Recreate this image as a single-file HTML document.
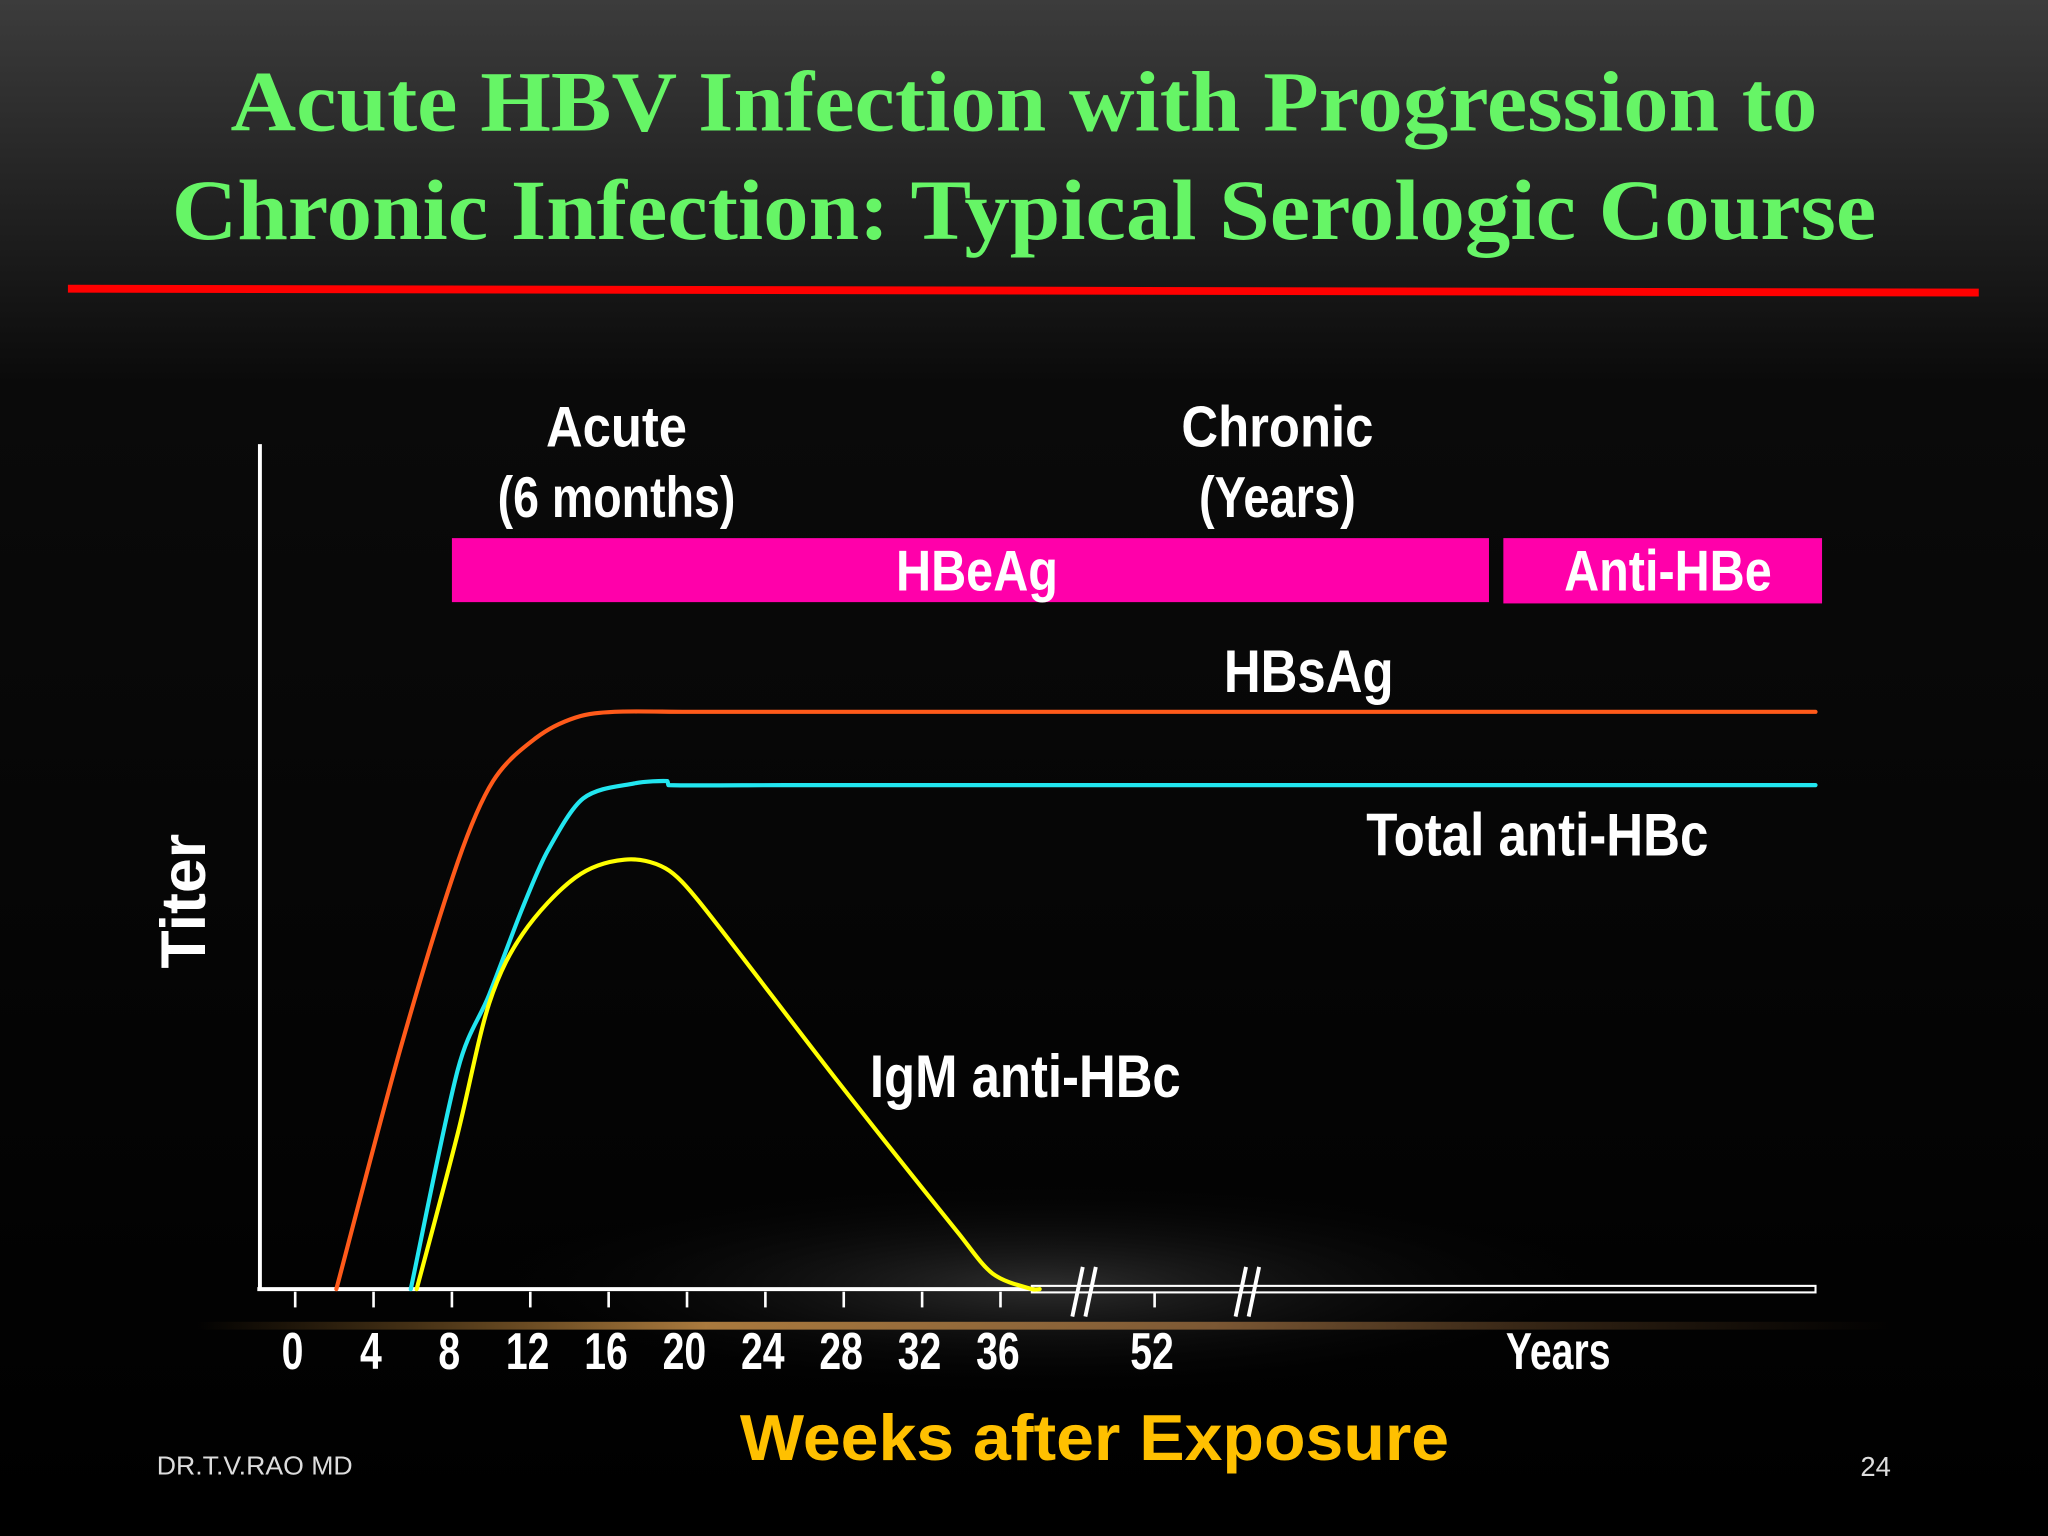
<!DOCTYPE html>
<html><head><meta charset="utf-8"><style>
html,body{margin:0;padding:0;background:#000;}
svg{display:block;}
.n{font-family:"Liberation Sans",sans-serif;font-weight:bold;fill:#fff;}
</style></head><body>
<svg id="chart" width="2048" height="1536" viewBox="0 0 1568 1176" xmlns="http://www.w3.org/2000/svg">
<defs>
<linearGradient id="bg" x1="0" y1="0" x2="0" y2="1">
<stop offset="0" stop-color="#3c3c3c"/><stop offset="0.25" stop-color="#0a0a0a"/><stop offset="1" stop-color="#000"/>
</linearGradient>
<radialGradient id="glow" cx="0.5" cy="0.5" r="0.5">
<stop offset="0" stop-color="#2e2e2e"/><stop offset="1" stop-color="#000" stop-opacity="0"/>
</radialGradient>
<linearGradient id="gold" x1="0" x2="1">
<stop offset="0" stop-color="#c98a30" stop-opacity="0"/><stop offset="0.3" stop-color="#e0a050"/><stop offset="0.6" stop-color="#a07040"/><stop offset="1" stop-color="#604020" stop-opacity="0"/>
</linearGradient>
</defs>
<rect width="1568" height="1176" fill="url(#bg)"/>
<ellipse cx="800" cy="985" rx="450" ry="85" fill="url(#glow)"/>
<rect x="150" y="1012" width="1300" height="6" fill="url(#gold)" opacity="0.75"/>

<g font-family="'Liberation Serif',serif" font-weight="bold" font-size="66" fill="#66f566" text-anchor="middle">
<text x="784" y="100" textLength="1215" lengthAdjust="spacingAndGlyphs">Acute HBV Infection with Progression to</text>
<text x="784" y="183" textLength="1305" lengthAdjust="spacingAndGlyphs">Chronic Infection: Typical Serologic Course</text>
</g>
<polygon points="52,218 1515,221 1515,227 52,224" fill="#ff0000"/>

<g class="n" font-size="44" text-anchor="middle">
<text x="472" y="342" textLength="108" lengthAdjust="spacingAndGlyphs">Acute</text>
<text x="472" y="396" textLength="182" lengthAdjust="spacingAndGlyphs">(6 months)</text>
<text x="978" y="342" textLength="147" lengthAdjust="spacingAndGlyphs">Chronic</text>
<text x="978" y="396" textLength="120" lengthAdjust="spacingAndGlyphs">(Years)</text>
</g>
<rect x="346" y="412" width="794" height="49" fill="#ff00aa"/>
<rect x="1151" y="412" width="244" height="50" fill="#ff00aa"/>
<text class="n" x="748" y="452" font-size="44" text-anchor="middle" textLength="124" lengthAdjust="spacingAndGlyphs">HBeAg</text>
<text class="n" x="1277" y="452" font-size="44" text-anchor="middle" textLength="159" lengthAdjust="spacingAndGlyphs">Anti-HBe</text>
<text class="n" x="1002" y="530" font-size="46" text-anchor="middle" textLength="130" lengthAdjust="spacingAndGlyphs">HBsAg</text>
<text class="n" x="1177" y="655" font-size="46" text-anchor="middle" textLength="262" lengthAdjust="spacingAndGlyphs">Total anti-HBc</text>
<text class="n" x="785" y="840" font-size="46" text-anchor="middle" textLength="238" lengthAdjust="spacingAndGlyphs">IgM anti-HBc</text>

<text x="0" y="0" transform="translate(157,690) rotate(-90)" font-family="'Liberation Sans',sans-serif" font-weight="bold" font-size="48" fill="#fff" text-anchor="middle">Titer</text>
<text x="838" y="1118" font-family="'Liberation Sans',sans-serif" font-weight="bold" font-size="50" fill="#ffc000" text-anchor="middle" textLength="543" lengthAdjust="spacingAndGlyphs">Weeks after Exposure</text>
<text x="120" y="1129" font-family="'Liberation Sans',sans-serif" font-size="20" fill="#ddd" textLength="150" lengthAdjust="spacingAndGlyphs">DR.T.V.RAO MD</text>
<text x="1436" y="1130" font-family="'Liberation Sans',sans-serif" font-size="21" fill="#ddd" text-anchor="middle">24</text>

<g id="axes"></g>
<g id="series"></g>
</svg>
<script>
const tickWeeks = [0,4,8,12,16,20,24,28,32,36,52];
const tickLabels = ["0","4","8","12","16","20","24","28","32","36","52"];
const hbsagWeeks = [2.1,5.4,8.3,10.1,12.3,14.3,16.3,20,260];
const hbsagTiter = [0,42,74,88,95.5,99,100,100,100];
const totalWeeks = [5.9,8.3,9.9,11.6,12.9,14.7,17.3,19,19.05,25,260];
const totalTiter = [0,38,51,66,76,85,87.6,88,87.3,87.3,87.3];
const igmWeeks = [6.2,8.3,9.9,11.6,14.3,16.8,18.9,20.6,27.6,33.9,35.6,37.6,38];
const igmTiter = [0,27,49.5,61.5,71.3,74.4,72.9,67.2,36.4,9.5,2.7,0,0];

const NS="http://www.w3.org/2000/svg";
function xScale(w){
  if(w<=38) return 226+15*w;
  if(w<=52) return 796+(w-38)*88/14;
  return 884+(w-52)*506/208;
}
function yScale(t){ return 987-t*4.42; }
function mk(tag,attrs,parent){const e=document.createElementNS(NS,tag);for(const k in attrs)e.setAttribute(k,attrs[k]);parent.appendChild(e);return e;}
const axes=document.getElementById('axes');
let e=mk('line',{x1:199,y1:340,x2:199,y2:988,stroke:'#fff','stroke-width':3},axes);


e=mk('line',{x1:197,y1:987,x2:792,y2:987,stroke:'#fff','stroke-width':3},axes);


e=mk('rect',{x:790,y:984.5,width:600,height:5,fill:'none',stroke:'#fff','stroke-width':1.6},axes);


tickWeeks.forEach((w,i)=>{
  const x=xScale(w);
  let t=mk('line',{x1:x,y1:989,x2:x,y2:1001,stroke:'#fff','stroke-width':2},axes);
  
  
  let l=mk('text',{transform:'translate('+(x-2)+',1048) scale(0.75,1)','text-anchor':'middle','font-size':40,class:'n'},axes);
  l.textContent=tickLabels[i];
  
  
});
let yl=mk('text',{transform:'translate(1193,1048) scale(0.75,1)','text-anchor':'middle','font-size':40,class:'n'},axes);
yl.textContent='Years';


[830,955].forEach(cx=>{
  [-5,5].forEach(d=>{
    let b=mk('line',{x1:cx+d-4,y1:1008,x2:cx+d+4,y2:970,stroke:'#fff','stroke-width':3},axes);
    
    
  });
});
const series=document.getElementById('series');
function clampCtrl(base,vec,maxDx){
  let s=1;
  if(Math.abs(vec[0])>maxDx && vec[0]!==0) s=maxDx/Math.abs(vec[0]);
  return [base[0]+vec[0]*s, base[1]+vec[1]*s];
}
function smoothPath(P){
  let d='M'+P[0][0].toFixed(1)+','+P[0][1].toFixed(1);
  for(let i=0;i<P.length-1;i++){
    const p0=P[i-1]||P[i],p1=P[i],p2=P[i+1],p3=P[i+2]||p2;
    const seg=(p2[0]-p1[0])/3;
    const c1=clampCtrl(p1,[(p2[0]-p0[0])/6,(p2[1]-p0[1])/6],seg);
    const c2=clampCtrl(p2,[-(p3[0]-p1[0])/6,-(p3[1]-p1[1])/6],seg);
    d+=' C'+c1[0].toFixed(1)+','+c1[1].toFixed(1)+' '+c2[0].toFixed(1)+','+c2[1].toFixed(1)+' '+p2[0].toFixed(1)+','+p2[1].toFixed(1);
  }
  return d;
}
function draw(ws,ts,color,name){
  const P=ws.map((w,i)=>[xScale(w),yScale(ts[i])]);
  const p=mk('path',{d:smoothPath(P),fill:'none',stroke:color,'stroke-width':3.2,'stroke-linejoin':'round','stroke-linecap':'round'},series);
  
  
}
draw(hbsagWeeks,hbsagTiter,'#ff5a1a','hbsag-line');
draw(totalWeeks,totalTiter,'#22e6f0','total-anti-hbc-line');
draw(igmWeeks,igmTiter,'#ffff00','igm-anti-hbc-line');
</script>
</body></html>
